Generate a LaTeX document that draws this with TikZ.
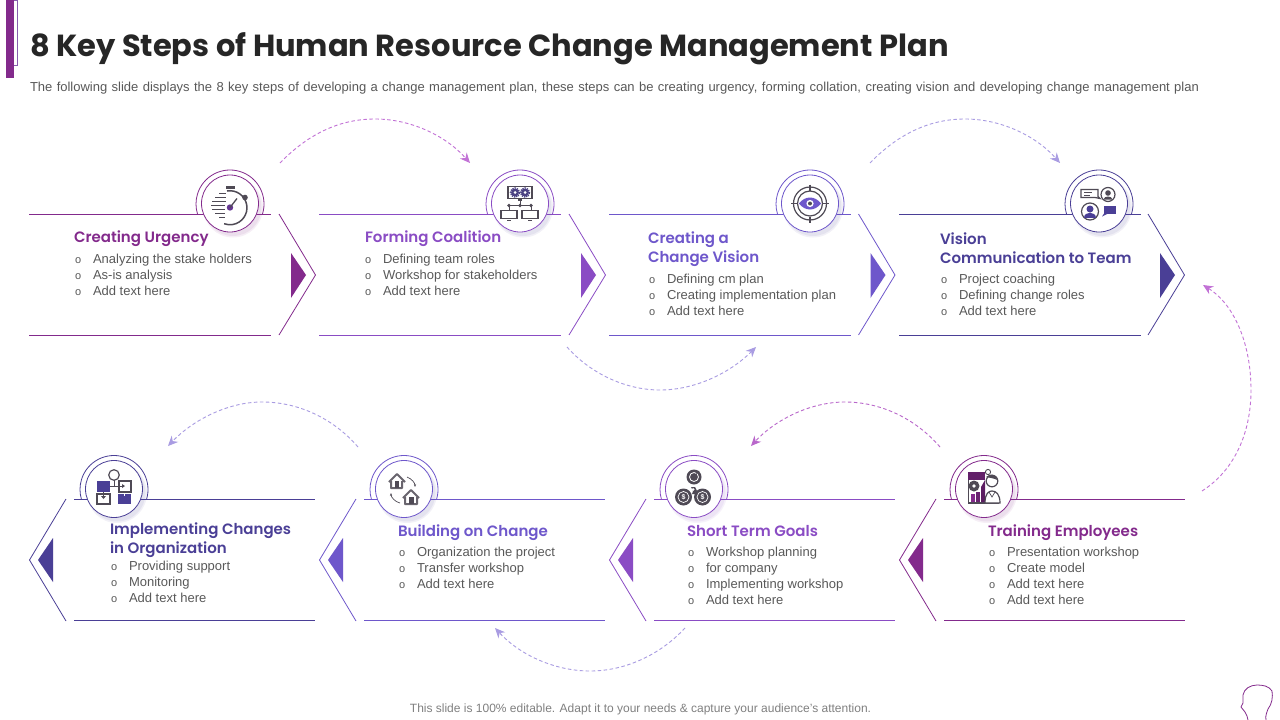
\documentclass[tikz,border=0pt]{standalone}
\usepackage{fontspec}
\setmainfont{Liberation Sans}
\newfontfamily\headfont{Poppins}[BoldFont={Poppins SemiBold}]
\newfontfamily\titlefont{Poppins}
\usetikzlibrary{arrows.meta}
\definecolor{ca}{HTML}{832A8C}
\definecolor{cb}{HTML}{8A4CC4}
\definecolor{cc}{HTML}{6E57CB}
\definecolor{cd}{HTML}{4A3F96}
\definecolor{ink}{HTML}{595959}
\definecolor{icn}{HTML}{4F4A55}
\definecolor{pinkarc}{HTML}{C272D6}
\definecolor{lilarc}{HTML}{A99CE2}
\tikzset{
  txt/.style={inner sep=0pt,outer sep=0pt},
  cardhead/.style={txt,anchor=west,align=left,font=\headfont\bfseries\fontsize{15}{19}\selectfont},
  cardlist/.style={txt,anchor=north west,align=left,text=ink,font=\fontsize{13}{16}\selectfont},
  arcline/.style={dash pattern=on 3.5pt off 2.5pt,line width=0.9pt,-{Stealth[length=10pt,width=9pt]}},
  frameline/.style={line width=0.8pt},
  ico/.style={icn,line width=1.2pt},
  icf/.style={fill=icn,draw=none}
}
\newcommand{\itm}[1]{\makebox[19pt][l]{\hspace{1pt}\fontsize{11}{11}\selectfont o}#1}
\newcommand{\halo}[4]{%
  \fill[#4,opacity=.07] (#1+3,#2+4) circle[radius=30];
  \fill[#4,opacity=.08] (#1+3,#2+4) circle[radius=28.5];
  \draw[#3,line width=0.8pt] (#1,#2+0.5) ++(17:34) arc[start angle=17,end angle=-197,radius=34];
  \draw[#3,line width=0.8pt,fill=white] (#1,#2) circle[radius=28.5];
}
\newcommand{\topframe}[3]{%
  \draw[#3,frameline] (29+#1,214) -- (270.5+#1,214);
  \draw[#3,frameline] (29+#1,335) -- (270.5+#1,335);
  \draw[#3,line width=0.8pt] (279+#2,214) -- (315.5+#2,275) -- (279+#2,335);
  \fill[#3] (291+#2,253) -- (306+#2,275) -- (291+#2,298) -- cycle;
}
\newcommand{\botframe}[2]{%
  \draw[#2,frameline] (74+#1,499) -- (315+#1,499);
  \draw[#2,frameline] (74+#1,620) -- (315+#1,620);
  \draw[#2,line width=0.8pt] (66+#1,499) -- (29.5+#1,560) -- (66+#1,621);
  \fill[#2] (53+#1,538) -- (38+#1,560) -- (53+#1,582) -- cycle;
}
\begin{document}
\begin{tikzpicture}[x=1pt,y=-1pt]
\useasboundingbox (0,0) rectangle (1280,720);
\fill[white] (0,0) rectangle (1280,720);
\draw[cb!70!gray,line width=0.5pt] (14,0) -- (17,0) -- (17,65) -- (14,65);
\fill[ca] (6,0) rectangle (14,78);
\node[txt,anchor=base west,text=black!85] (title) at (30,56)
  {\titlefont\bfseries\fontsize{30.5}{36}\selectfont 8 Key Steps of Human Resource Change Management Plan};
\node[txt,anchor=base west,text=ink] (subtitle) at (30,91)
  {\fontsize{13}{14}\selectfont\makebox[1169pt][s]{The following slide displays the 8 key steps of developing a change management plan, these steps can be creating urgency, forming collation, creating vision and developing change management plan}};
\node[txt,anchor=base,text=black!50] (footer) at (640.5,712)
  {\fontsize{12}{14}\selectfont This slide is 100\% editable. Adapt it to your needs \& capture your audience’s attention.};
\topframe{0}{0}{ca}\topframe{290}{290}{cb}\topframe{580}{579.5}{cc}\topframe{870}{869}{cd}
\botframe{0}{cd}\botframe{290}{cc}\botframe{580}{cb}\botframe{870}{ca}
\coordinate (a1s) at (280,163); \coordinate (a1e) at (470,163);
\coordinate (a2s) at (870,163); \coordinate (a2e) at (1060,163);
\coordinate (a3s) at (567,347); \coordinate (a3e) at (756,347);
\coordinate (a4s) at (1202,491); \coordinate (a4e) at (1203,285);
\coordinate (a5s) at (940,447); \coordinate (a5e) at (751,446);
\coordinate (a6s) at (358,447); \coordinate (a6e) at (168,446);
\coordinate (a7s) at (685,628); \coordinate (a7e) at (495,628);
\draw[arcline,pinkarc] (a1s) .. controls (310,132) and (342,119) .. (375,119) .. controls (410,119) and (445,135) .. (a1e);
\draw[arcline,lilarc] (a2s) .. controls (900,132) and (932,119) .. (965,119) .. controls (1000,119) and (1035,135) .. (a2e);
\draw[arcline,lilarc] (a3s) .. controls (590,373) and (625,390) .. (660,390) .. controls (695,390) and (730,373) .. (a3e);
\draw[arcline,pinkarc] (a4s) .. controls (1235,470) and (1251,432) .. (1251,390) .. controls (1251,345) and (1235,305) .. (a4e);
\draw[arcline,pinkarc!85!ca] (a5s) .. controls (915,418) and (880,402) .. (845,402) .. controls (810,402) and (775,420) .. (a5e);
\draw[arcline,lilarc] (a6s) .. controls (333,418) and (298,402) .. (262,402) .. controls (228,402) and (193,420) .. (a6e);
\draw[arcline,lilarc] (a7s) .. controls (660,655) and (625,671) .. (590,671) .. controls (555,671) and (520,655) .. (a7e);
\halo{230}{203.5}{ca}{ca}
\halo{520}{203.5}{cb}{cd}
\halo{810}{203.5}{cc}{cd}
\halo{1099}{203.5}{cd}{cd}
\halo{114}{489}{cd}{cd}
\halo{404}{489}{cc}{cd}
\halo{694}{489}{cb}{cb}
\halo{984}{489}{ca}{ca}
% icon 1: stopwatch
\begin{scope}[shift={(230,203.5)}]
  \draw[ico,line width=1.5pt] (-3,-12.5) arc[start angle=-100,end angle=110,radius=17] ;
  \fill[icn] (-4,-18) rectangle (5,-14.5);
  \fill[icn] (15,-6) circle[radius=2.8];
  \fill[cd!55!ca] (0,4) circle[radius=3.2];
  \draw[ico,line width=1.3pt] (0,4) -- (7,-5);
  \foreach \yy/\xa/\xb in {-10/-11/-4,-6/-15/-4,-2/-18/-4,2/-19/-5,6/-18/-5,10/-15/-5,14/-11/-5}
    \draw[ico,line width=1.3pt] (\xa,\yy) -- (\xb,\yy);
\end{scope}
% icon 2: network
\begin{scope}[shift={(520,203.5)}]
  \draw[ico] (-12,-17) rectangle (12,-5);
  \foreach \gx in {-5,5} {
    \draw[cd!70!icn,line width=1.3pt,dash pattern=on 1.3pt off 1pt] (\gx,-11) circle[radius=4.6];
    \fill[cd!70!icn] (\gx,-11) circle[radius=4];
    \fill[white] (\gx,-11) circle[radius=1.5];
  }
  \fill[icn] (-2,-5) rectangle (2,-2.5);
  \draw[ico,line width=.9pt] (-11,2) -- (11,2) (0,-2.5) -- (0,2) (-11,2) -- (-11,7) (11,2) -- (11,7);
  \foreach \gx in {-11,0,11} \fill[icn] (\gx,2) circle[radius=1.8];
  \draw[ico] (-19,7) rectangle (-3,15);
  \draw[ico] (2,7) rectangle (18,15);
  \draw[ico,line width=.9pt] (-13,16.5) -- (-9,16.5) (8,16.5) -- (12,16.5);
\end{scope}
% icon 3: target eye
\begin{scope}[shift={(810,203.5)}]
  \draw[ico] (0,0) circle[radius=16.5];
  \draw[ico] (0,0) circle[radius=12.5];
  \draw[ico] (-19,0) -- (-13,0) (13,0) -- (19,0) (0,-19) -- (0,-13) (0,13) -- (0,19);
  \fill[cc] (-11,0) .. controls (-5,-8) and (5,-8) .. (11,0) .. controls (5,8) and (-5,8) .. (-11,0) -- cycle;
  \fill[white] (0,0) circle[radius=3.6];
  \fill[icn] (0,0) circle[radius=2];
\end{scope}
% icon 4: team talk
\begin{scope}[shift={(1099,203.5)}]
  \draw[ico] (-18,-14) -- (-1,-14) -- (-1,-7) -- (1,-5) -- (-4,-6) -- (-18,-6) -- cycle;
  \draw[ico,line width=.8pt] (-15,-11.5) -- (-7,-11.5) (-15,-8.5) -- (-9,-8.5);
  \draw[ico] (9,-9) circle[radius=7];
  \fill[icn] (9,-10.5) circle[radius=2.8];
  \fill[icn] (4.5,-4) .. controls (5,-8) and (13,-8) .. (13.5,-4) -- cycle;
  \draw[ico] (-9,8) circle[radius=8.5];
  \fill[cd] (-9,5.5) circle[radius=3.5];
  \fill[cd] (-15,14) .. controls (-15,7) and (-3,7) .. (-3,14) -- cycle;
  \fill[cd] (5,2) rectangle (17,10);
  \fill[cd] (5,10) -- (9,10) -- (3,13) -- cycle;
\end{scope}
% icon 5: blocks
\begin{scope}[shift={(114,489)}]
  \draw[ico] (0,-14) circle[radius=5.3];
  \fill[cd] (-17,-8) rectangle (-4,3);
  \draw[ico,fill=white] (5,-8) rectangle (17,3);
  \draw[ico,fill=white] (-17,5) rectangle (-4,15);
  \fill[cd] (4,5) rectangle (17,15);
  \draw[ico,line width=.9pt] (0,-9) -- (0,-3) (-4,-3) -- (9,-3);
  \fill[icn] (11,-3) -- (8,-5) -- (8,-1) -- cycle;
  \draw[ico,line width=.9pt] (-10.5,3) -- (-10.5,8);
  \fill[icn] (-10.5,10) -- (-13,7) -- (-8,7) -- cycle;
  \draw[white,line width=.7pt] (10.5,4.6) -- (10.5,7);
\end{scope}
% icon 6: houses
\begin{scope}[shift={(404,489)}]
  \draw[icn!85,line width=2pt,line join=round] (-15,-7) -- (-7,-15) -- (1,-7) (-13,-8) -- (-13,-1) -- (-2,-1) -- (-2,-8);
  \fill[icn] (-9.5,-8) rectangle (-5.5,-1);
  \draw[icn!85,line width=2pt,line join=round] (-1,9) -- (7,1) -- (15,9) (1,8) -- (1,15) -- (13,15) -- (13,8);
  \fill[icn] (5,8) rectangle (9.5,15);
  \draw[ico,line width=.7pt,->,>={Stealth[length=3pt]}] (3,-12) .. controls (8,-10) and (11,-6) .. (11,-2);
  \draw[ico,line width=.7pt,->,>={Stealth[length=3pt]}] (-4,14) .. controls (-9,13) and (-13,8) .. (-13,4);
\end{scope}
% icon 7: goals
\begin{scope}[shift={(694,489)}]
  \fill[icn] (0,-12) circle[radius=7.5];
  \draw[white,line width=.8pt] (0,-12) circle[radius=4.5];
  \fill[icn] (-1,-13) circle[radius=1.5];
  \draw[icn,line width=.8pt] (0,-12) -- (5,-18);
  \fill[icn] (-10.5,8) circle[radius=8.5];
  \fill[icn] (8.5,8) circle[radius=8.5];
  \fill[icn] (-1,2) -- (-3,-2) -- (1,-2) -- (3,2) -- (1,5) -- (-2,5) -- cycle;
  \fill[white] (-1,0.5) circle[radius=1.5];
  \draw[white,line width=.7pt] (-10.5,8) circle[radius=5.5] (8.5,8) circle[radius=5.5];
  \node[txt,text=white,font=\fontsize{7}{7}\selectfont\bfseries] (dollarl) at (-10.5,8) {\$};
  \node[txt,text=white,font=\fontsize{7}{7}\selectfont\bfseries] (dollarr) at (8.5,8) {\$};
\end{scope}
% icon 8: training
\begin{scope}[shift={(984,489)}]
  \fill[ca!75!black] (-16,-17) rectangle (1,-9);
  \draw[ico] (-15.5,-9) -- (-15.5,14) (-16,14) -- (15,14);
  \fill[icn] (-10,-3) circle[radius=5.5];
  \fill[white] (-10,-3) circle[radius=1.8];
  \fill[ca] (-13,5) rectangle (-9,13);
  \fill[ca!80!black] (-8,3) rectangle (-4,13);
  \fill[ca!70!black] (-3,-2) -- (1,-9) -- (1,13) -- (-3,13) -- cycle;
  \draw[ico,fill=white] (8,-8) circle[radius=5.8];
  \fill[icn] (2,-12) .. controls (6,-16) and (12,-15) .. (13.5,-9) .. controls (9,-11) and (6,-11) .. (2,-12) -- cycle;
  \draw[ico,fill=white] (1,14) .. controls (1,4) and (5,2) .. (8,2) .. controls (12,2) and (16,5) .. (16,14) -- cycle;
  \draw[ico,line width=.7pt] (5,3) -- (8,8) -- (11,3);
  \draw[ico,line width=.9pt] (4,-17) circle[radius=2.6];
\end{scope}
% text: row 1
\node[cardhead,text=ca] (h1) at (74,239) {Creating Urgency};
\node[cardlist] (l1) at (74,254) {\itm{Analyzing the stake holders}\\\itm{As-is analysis}\\\itm{Add text here}};
\node[cardhead,text=cb] (h2) at (365,239) {Forming Coalition};
\node[cardlist] (l2) at (364,254) {\itm{Defining team roles}\\\itm{Workshop for stakeholders}\\\itm{Add text here}};
\node[cardhead,text=cc] (h3) at (648,249.5) {Creating a\\Change Vision};
\node[cardlist] (l3) at (648,274) {\itm{Defining cm plan}\\\itm{Creating implementation plan}\\\itm{Add text here}};
\node[cardhead,text=cd] (h4) at (940,248.5) {Vision\\Communication to Team};
\node[cardlist] (l4) at (940,274) {\itm{Project coaching}\\\itm{Defining change roles}\\\itm{Add text here}};
% text: row 2
\node[cardhead,text=cd] (h5) at (110,540.5) {Implementing Changes\\in Organization};
\node[cardlist] (l5) at (110,561) {\itm{Providing support}\\\itm{Monitoring}\\\itm{Add text here}};
\node[cardhead,text=cc] (h6) at (398,533) {Building on Change};
\node[cardlist] (l6) at (398,547) {\itm{Organization the project}\\\itm{Transfer workshop}\\\itm{Add text here}};
\node[cardhead,text=cb] (h7) at (687,531) {Short Term Goals};
\node[cardlist] (l7) at (687,547) {\itm{Workshop planning}\\\itm{for company}\\\itm{Implementing workshop}\\\itm{Add text here}};
\node[cardhead,text=ca] (h8) at (988,533) {Training Employees};
\node[cardlist] (l8) at (988,547) {\itm{Presentation workshop}\\\itm{Create model}\\\itm{Add text here}\\\itm{Add text here}};
% head outline
\draw[ca,line width=0.8pt] (1266,720) .. controls (1265,716) and (1267,712) .. (1268,709) .. controls (1272,704) and (1273,697) .. (1272,691) .. controls (1269,686) and (1263,685) .. (1257,685) .. controls (1250,685) and (1244,689) .. (1243,695) -- (1243,703) -- (1241,707) -- (1245,712) -- (1247,716) -- (1248,720);
\end{tikzpicture}
\end{document}
